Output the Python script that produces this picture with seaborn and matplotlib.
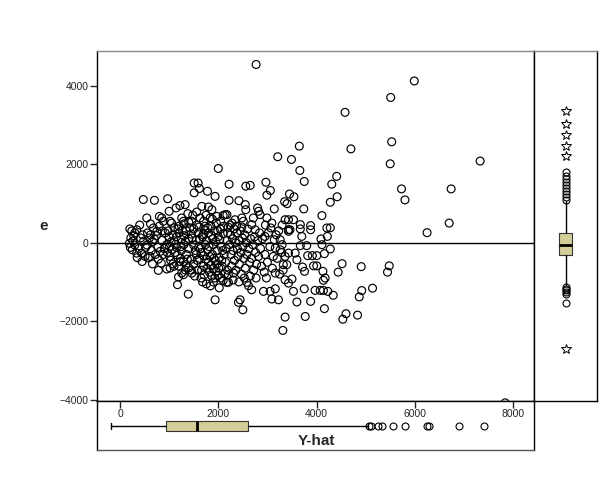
""" Residuals vs fitted values with marginal boxplots (SPSS style) """
import matplotlib
matplotlib.use('Agg')
import numpy as np
import pandas as pd
import matplotlib.pyplot as plt
import seaborn as sns


"""  data read off the chart: (Y-hat, e)  """
pts_left = [(200, 350), (240, 300), (300, 250), (340, 330), (280, 180), (220, 120), (260, 40), (190, -20),
            (300, -60), (250, -180), (210, -120), (340, -265), (380, -150), (420, 120), (440, -265), (460, 200),
            (480, 40), (510, -350), (520, -120), (550, -60), (560, 250), (575, -390), (600, 120), (610, -350),
            (620, 200), (640, -200), (660, 30), (680, 375), (700, 90), (720, -300), (740, 180), (750, 290),
            (770, -120), (780, -420), (800, 420), (820, -220), (840, -520), (850, 60), (860, 300), (880, -300),
            (475, 1100), (700, 1080), (545, 630), (800, 670), (850, 630), (880, 545), (400, 450), (620, 480),
            (780, -705), (350, -380), (450, -480), (660, -540)]

pts_mid = [(900, -150), (920, 250), (950, -50), (950, -670), (970, 1120), (980, 300), (1000, 150), (1000, 800),
           (1010, -100), (1020, -645), (1020, 545), (1030, -450), (1050, 500), (1060, -170), (1080, -540),
           (1100, 50), (1100, 380), (1100, -600), (1120, -250), (1140, 885), (1150, 150), (1150, -120),
           (1170, -320), (1170, -1070), (1190, -875), (1200, 250), (1200, 420), (1220, 945), (1220, -480),
           (1230, -400), (1250, 80), (1250, -200), (1255, 630), (1255, -775), (1290, 545), (1290, -480),
           (1290, -815), (1300, 180), (1300, -50), (1300, 480), (1325, 970), (1340, -560), (1350, 300),
           (1350, -300), (1380, 740), (1390, -1310), (1400, 100), (1400, -150), (1400, 520), (1400, -640),
           (1450, 220), (1450, -420), (1450, -700), (1460, 545), (1460, -775), (1480, 700), (1500, 350),
           (1500, -550), (1500, -60), (1510, 1520), (1510, 1270), (1520, -850), (1550, 60), (1550, -300),
           (1560, 780), (1560, 450), (1580, -700), (1590, 1520), (1600, 250), (1600, -120), (960, -250),
           (1040, 20), (1080, 200), (1130, -40), (1180, 350), (1240, -100), (1270, 320), (1330, 30),
           (1370, -420), (1420, 380), (1470, 120), (1530, -200), (1570, -450), (1010, -350), (1200, -600),
           (1330, -700), (1615, 1380), (1780, 1310)]

pts_core = [(1620, -400), (1630, 630), (1650, -250), (1650, -900), (1665, 925), (1680, 150), (1700, 545),
            (1700, -330), (1700, -600), (1720, 320), (1740, -50), (1750, -420), (1760, 50), (1780, -180),
            (1800, 910), (1800, -500), (1800, 250), (1820, -750), (1835, 630), (1850, -580), (1850, 420),
            (1870, 840), (1880, -300), (1890, 100), (1900, -660), (1900, -50), (1920, 300), (1935, 1180),
            (1935, -1455), (1940, -450), (1950, -740), (1960, 500), (1970, 670), (1980, -200), (2000, 1890),
            (2000, -830), (2000, 150), (2020, -380), (2040, 350), (2050, -900), (2060, -100), (2080, -600),
            (2100, 695), (2100, -960), (2100, 230), (2120, -300), (2140, 715), (2150, -500), (2170, -1010),
            (2175, 715), (2180, 60), (2190, -700), (2200, 400), (1640, -150), (1660, -700), (1690, 200),
            (1710, -820), (1730, 420), (1770, -650), (1790, 380), (1810, -100), (1830, -350), (1860, 180),
            (1870, -850), (1910, -400), (1930, -900), (1950, 30), (1970, -550), (1990, 300), (2010, -650),
            (2030, 80), (2070, -450), (2090, -200), (2110, 420), (2130, -800), (2160, -150), (2190, 250),
            (1610, 400), (1750, 700), (1880, 600), (2050, 550), (1680, -1000), (1760, -1050), (1840, -1100),
            (1620, 100), (1900, -1000), (2020, -1150)]

pts_upper = [(2205, -1010), (2205, -815), (2220, 1490), (2220, 1080), (2280, 500), (2310, -775), (2340, 585),
             (2410, -1520), (2420, 1070), (2445, -1455), (2480, 630), (2480, 400), (2500, -1710), (2510, 545),
             (2550, 970), (2560, 1440), (2560, 840), (2580, -1010), (2615, -1095), (2650, 1460), (2680, 460),
             (2680, -1200), (2715, 630), (2750, 330), (2800, 885), (2820, 800), (2850, 715), (2920, -1240),
             (2935, -750), (2230, -50), (2250, 200), (2260, -300), (2270, -600), (2290, 100), (2300, -200),
             (2320, 350), (2330, -450), (2350, 0), (2360, -700), (2380, 250), (2390, -150), (2400, -350),
             (2420, 50), (2430, -550), (2450, 300), (2460, -250), (2470, -800), (2490, 120), (2500, -100),
             (2520, -400), (2540, 200), (2550, -650), (2570, 0), (2580, -300), (2600, 350), (2620, -150),
             (2640, -500), (2660, 100), (2680, -400), (2700, -50), (2720, -700), (2740, 150), (2760, -250),
             (2780, -550), (2800, 50), (2820, -350), (2840, 250), (2860, -150), (2880, -600), (2900, 100),
             (2240, 450), (2370, 420), (2530, -900), (2650, -850), (2770, -900), (2300, -950), (2420, -1000)]

pts_right = [(2950, 160), (2970, 1540), (2990, 1210), (2990, 630), (3055, -1240), (3060, 1330), (3070, 375),
             (3090, 500), (3090, -1435), (3140, 860), (3140, 75), (3160, -1175), (3160, -775), (3160, -135),
             (3210, 2190), (3225, -1455), (3260, 75), (3260, -180), (3290, -250), (3315, -2235), (3325, -560),
             (3350, 1045), (3360, 585), (3360, -350), (3360, -945), (3360, -1895), (3395, -560), (3400, 995),
             (3430, 585), (3430, 330), (3430, 290), (3430, -265), (3430, -1030), (3450, 1240), (3460, 330),
             (3490, 2120), (3500, -925), (3530, 585), (3530, -1240), (3540, 1170), (3565, -265), (3600, -435),
             (3600, -1510), (3650, 2460), (3660, 1840), (3670, 460), (3670, 350), (3670, -75), (3700, 160),
             (3715, -620), (3740, 860), (3750, 1560), (3750, -1175), (3755, -730), (3770, -1880), (3800, -75),
             (3820, -330), (3880, 435), (3880, 330), (3880, -1495), (3915, -330), (3940, -590), (3970, -1215),
             (4005, -590), (4005, -330), (4075, -1215), (4090, 95), (4110, 690), (4110, -50), (4130, -730),
             (4140, -1215), (4140, -960), (4160, -280), (4160, -1680), (4175, -900), (4210, 375), (4220, 160),
             (4230, -1240), (2950, -300), (3000, -500), (3050, -100), (3100, -650), (3200, -400), (3250, -800),
             (3300, -50), (2980, -900), (3120, -350), (3180, 200), (3230, 300), (3020, 250), (2960, 450),
             (3300, 450), (3320, -700)]

pts_far = [(4280, 1030), (4280, 380), (4280, -160), (4310, 1490), (4340, -1340), (4410, 1690), (4420, 1170),
           (4440, -750), (4520, -535), (4535, -1950), (4580, 3320), (4600, -1810), (4700, 2390), (4835, -1845),
           (4870, -1380), (4910, -610), (4920, -1220), (5140, -1160), (5445, -750), (5480, -590), (5500, 2010),
           (5510, 3700), (5530, 2570), (5730, 1370), (5800, 1090), (5990, 4120), (6250, 255), (6700, 500),
           (6740, 1370), (7330, 2080), (7840, -4080), (2770, 4540)]

# marginal boxplot summaries as drawn on the chart
yhat_box = [-190, 940, 1560, 2600, 5050]          # whislo, q1, med, q3, whishi
yhat_out = [5070, 5100, 5260, 5340, 5550, 5800, 6250, 6290, 6890, 7400]
e_box = [-1070, -306, -50, 250, 1050]
e_out = [1100, 1170, 1240, 1320, 1400, 1470, 1550, 1620, 1700, 1790,
         -1130, -1170, -1210, -1250, -1300, -1530]
e_extreme = [2200, 2460, 2740, 3030, 3350, -2710]

df = pd.DataFrame(pts_left + pts_mid + pts_core + pts_upper + pts_right + pts_far, columns=['Y-hat', 'e'])

sns.set_style('white')
plt.rcParams['font.family'] = ['Liberation Sans', 'DejaVu Sans']

fig = plt.figure(figsize=(6.11, 4.8), dpi=100)
ax = fig.add_axes([0.1588, 0.1646, 0.7152, 0.7292])
ax_r = fig.add_axes([0.874, 0.1646, 0.1031, 0.7292], sharey=ax)
ax_b = fig.add_axes([0.1588, 0.0625, 0.7152, 0.1021], sharex=ax)

box_col = '#d3ce97'

"""  main scatter  """
sns.scatterplot(data=df, x='Y-hat', y='e', ax=ax, marker='o', s=32,
                facecolors='none', edgecolor='black', linewidth=0.85)
ax.axhline(0, color='black', lw=1)
ax.set_xlim(-468, 8427)
ax.set_ylim(-4033, 4884)
ax.set_yticks([-4000, -2000, 0, 2000, 4000])
ax.set_xticks([0, 2000, 4000, 6000, 8000])
ax.set_xlabel('')
ax.set_ylabel('')
ax.tick_params(axis='y', direction='out', length=5, width=1, labelsize=7.5, pad=1, left=True)
ax.tick_params(axis='x', bottom=False, labelbottom=False)

"""  right boxplot (e)  """
stats_e = [dict(whislo=e_box[0], q1=e_box[1], med=e_box[2], q3=e_box[3], whishi=e_box[4], fliers=e_out)]
ax_r.bxp(stats_e, positions=[0.5], widths=0.22, patch_artist=True, capwidths=0.0,
         boxprops=dict(facecolor=box_col, edgecolor='#333333', lw=0.8),
         medianprops=dict(color='black', lw=2),
         whiskerprops=dict(color='black', lw=1), capprops=dict(color='black', lw=1),
         flierprops=dict(marker='o', mfc='none', mec='black', ms=5, mew=0.8))
ax_r.plot([0.5] * len(e_extreme), e_extreme, ls='none', marker='*', mfc='none', mec='black', ms=7, mew=0.7)
ax_r.set_xlim(0, 1)
ax_r.tick_params(left=False, labelleft=False, bottom=False, labelbottom=False)

"""  bottom boxplot (Y-hat)  """
stats_y = [dict(whislo=yhat_box[0], q1=yhat_box[1], med=yhat_box[2], q3=yhat_box[3], whishi=yhat_box[4],
                fliers=yhat_out)]
ax_b.bxp(stats_y, positions=[0.49], widths=0.22, orientation='horizontal', patch_artist=True, capwidths=0.14,
         boxprops=dict(facecolor=box_col, edgecolor='#333333', lw=0.8),
         medianprops=dict(color='black', lw=2),
         whiskerprops=dict(color='black', lw=1), capprops=dict(color='black', lw=1),
         flierprops=dict(marker='o', mfc='none', mec='black', ms=5, mew=0.8))
ax_b.set_ylim(0, 1)
ax_b.xaxis.set_ticks_position('top')
ax_b.tick_params(axis='x', direction='in', length=5, width=1, labelsize=7.5, pad=-13,
                 top=True, labeltop=True, bottom=False, labelbottom=False)
ax_b.tick_params(axis='y', left=False, labelleft=False)

for a in (ax, ax_r, ax_b):
    for s in a.spines.values():
        s.set_color('black')
        s.set_linewidth(1)
ax.spines['top'].set_color('#888888')
ax_r.spines['top'].set_color('#888888')
ax_b.spines['bottom'].set_color('#555555')

fig.text(0.072, 0.529, 'e', fontsize=11, fontweight='bold', ha='center', va='center')
fig.text(0.518, 0.081, 'Y-hat', fontsize=11, fontweight='bold', ha='center', va='center')

plt.savefig('out.png', dpi=100)
